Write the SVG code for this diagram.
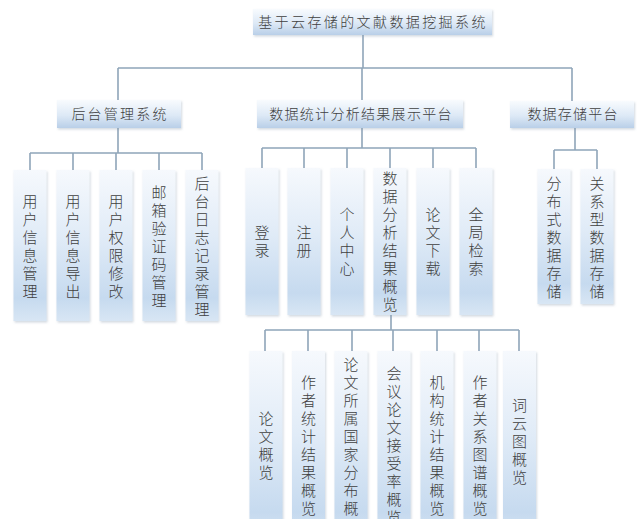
<svg xmlns="http://www.w3.org/2000/svg" width="643" height="519" viewBox="0 0 643 519">
<defs>
<linearGradient id="gh" x1="0" y1="0" x2="0" y2="1">
<stop offset="0" stop-color="#f8fbfe"/>
<stop offset="0.55" stop-color="#dde9f6"/>
<stop offset="1" stop-color="#b9cfe8"/>
</linearGradient>
<linearGradient id="gv" x1="0" y1="0" x2="0" y2="1">
<stop offset="0" stop-color="#f6f9fd"/>
<stop offset="0.45" stop-color="#e0ebf7"/>
<stop offset="0.85" stop-color="#c6daef"/>
<stop offset="1" stop-color="#d8e6f4"/>
</linearGradient>
<filter id="sh" x="-20%" y="-20%" width="140%" height="140%">
<feDropShadow dx="1" dy="1.5" stdDeviation="1.2" flood-color="#7f93a8" flood-opacity="0.35"/>
</filter>
</defs>
<style>
.bh{fill:url(#gh);filter:url(#sh)}
.bv{fill:url(#gv);filter:url(#sh)}
.t{font-family:"Noto Sans CJK SC","Noto Sans",sans-serif;font-size:14px;fill:#404040;font-weight:300}
.tv{font-family:"Noto Sans CJK SC","Noto Sans",sans-serif;font-size:15px;fill:#404040;font-weight:300;text-anchor:middle;writing-mode:vertical-rl;letter-spacing:3px}
.c{stroke:#8fa5b9;stroke-width:1.6;fill:none}
</style>
<g id="connectors">
<path class="c" d="M363 35V68M118 68H572M118 68V100M362 68V100M572 68V101"/>
<path class="c" d="M118 128V153M30 153H202M30 153V170M73 153V170M116 153V170M159 153V170M202 153V170"/>
<path class="c" d="M362 128V148M262 148H476M262 148V168M304 148V168M347 148V168M390 148V168M433 148V168M476 148V168"/>
<path class="c" d="M575 128V150M554 150H597M554 150V169M597 150V169"/>
<path class="c" d="M391 315V330M265 330H519M265 330V351M308 330V351M352 330V351M393 330V351M437 330V351M479 330V351M519 330V351"/>
</g>
<g id="n-root"><rect class="bh" x="253" y="9" width="239" height="26"/><text class="t" x="373" y="27" font-size="15" letter-spacing="2.4" text-anchor="middle">基于云存储的文献数据挖掘系统</text></g>
<g id="n-admin"><rect class="bh" x="57" y="100" width="124" height="28"/><text class="t" x="120" y="119" letter-spacing="2.2" text-anchor="middle">后台管理系统</text></g>
<g id="n-show"><rect class="bh" x="257" y="100" width="206" height="28"/><text class="t" x="361" y="119" letter-spacing="1.3" text-anchor="middle">数据统计分析结果展示平台</text></g>
<g id="n-store"><rect class="bh" x="510" y="101" width="124" height="27"/><text class="t" x="573" y="119" letter-spacing="1.2" text-anchor="middle">数据存储平台</text></g>

<g id="n-a1"><rect class="bv" x="13.5" y="170" width="33" height="151"/><text class="tv" x="30" y="247.5">用户信息管理</text></g>
<g id="n-a2"><rect class="bv" x="56.5" y="170" width="33" height="151"/><text class="tv" x="73" y="247.5">用户信息导出</text></g>
<g id="n-a3"><rect class="bv" x="99.5" y="170" width="33" height="151"/><text class="tv" x="116" y="247.5">用户权限修改</text></g>
<g id="n-a4"><rect class="bv" x="142.5" y="170" width="33" height="151"/><text class="tv" x="159" y="247.5">邮箱验证码管理</text></g>
<g id="n-a5"><rect class="bv" x="185.5" y="170" width="33" height="151"/><text class="tv" x="202" y="247.5">后台日志记录管理</text></g>

<g id="n-m1"><rect class="bv" x="245.5" y="168" width="33" height="147"/><text class="tv" x="262" y="243">登录</text></g>
<g id="n-m2"><rect class="bv" x="287.5" y="168" width="33" height="147"/><text class="tv" x="304" y="243">注册</text></g>
<g id="n-m3"><rect class="bv" x="330.5" y="168" width="33" height="147"/><text class="tv" x="347" y="243">个人中心</text></g>
<g id="n-m4"><rect class="bv" x="373.5" y="168" width="33" height="147"/><text class="tv" x="390" y="243">数据分析结果概览</text></g>
<g id="n-m5"><rect class="bv" x="416.5" y="168" width="33" height="147"/><text class="tv" x="433" y="243">论文下载</text></g>
<g id="n-m6"><rect class="bv" x="459.5" y="168" width="33" height="147"/><text class="tv" x="476" y="243">全局检索</text></g>

<g id="n-s1"><rect class="bv" x="537.5" y="169" width="33" height="135"/><text class="tv" x="554" y="239">分布式数据存储</text></g>
<g id="n-s2"><rect class="bv" x="580.5" y="169" width="33" height="135"/><text class="tv" x="597" y="239">关系型数据存储</text></g>

<g id="n-b1"><rect class="bv" x="249.5" y="351" width="33" height="190"/><text class="tv" x="266" y="446.5">论文概览</text></g>
<g id="n-b2"><rect class="bv" x="292" y="351" width="33" height="190"/><text class="tv" x="308.5" y="446.5">作者统计结果概览</text></g>
<g id="n-b3"><rect class="bv" x="334.5" y="351" width="33" height="190"/><text class="tv" x="351" y="446.5">论文所属国家分布概览</text></g>
<g id="n-b4"><rect class="bv" x="377.5" y="351" width="33" height="190"/><text class="tv" x="394" y="446.5">会议论文接受率概览</text></g>
<g id="n-b5"><rect class="bv" x="420.5" y="351" width="33" height="190"/><text class="tv" x="437" y="446.5">机构统计结果概览</text></g>
<g id="n-b6"><rect class="bv" x="463.5" y="351" width="33" height="190"/><text class="tv" x="480" y="446.5">作者关系图谱概览</text></g>
<g id="n-b7"><rect class="bv" x="503" y="351" width="33" height="190"/><text class="tv" x="519.5" y="443">词云图概览</text></g>
</svg>
